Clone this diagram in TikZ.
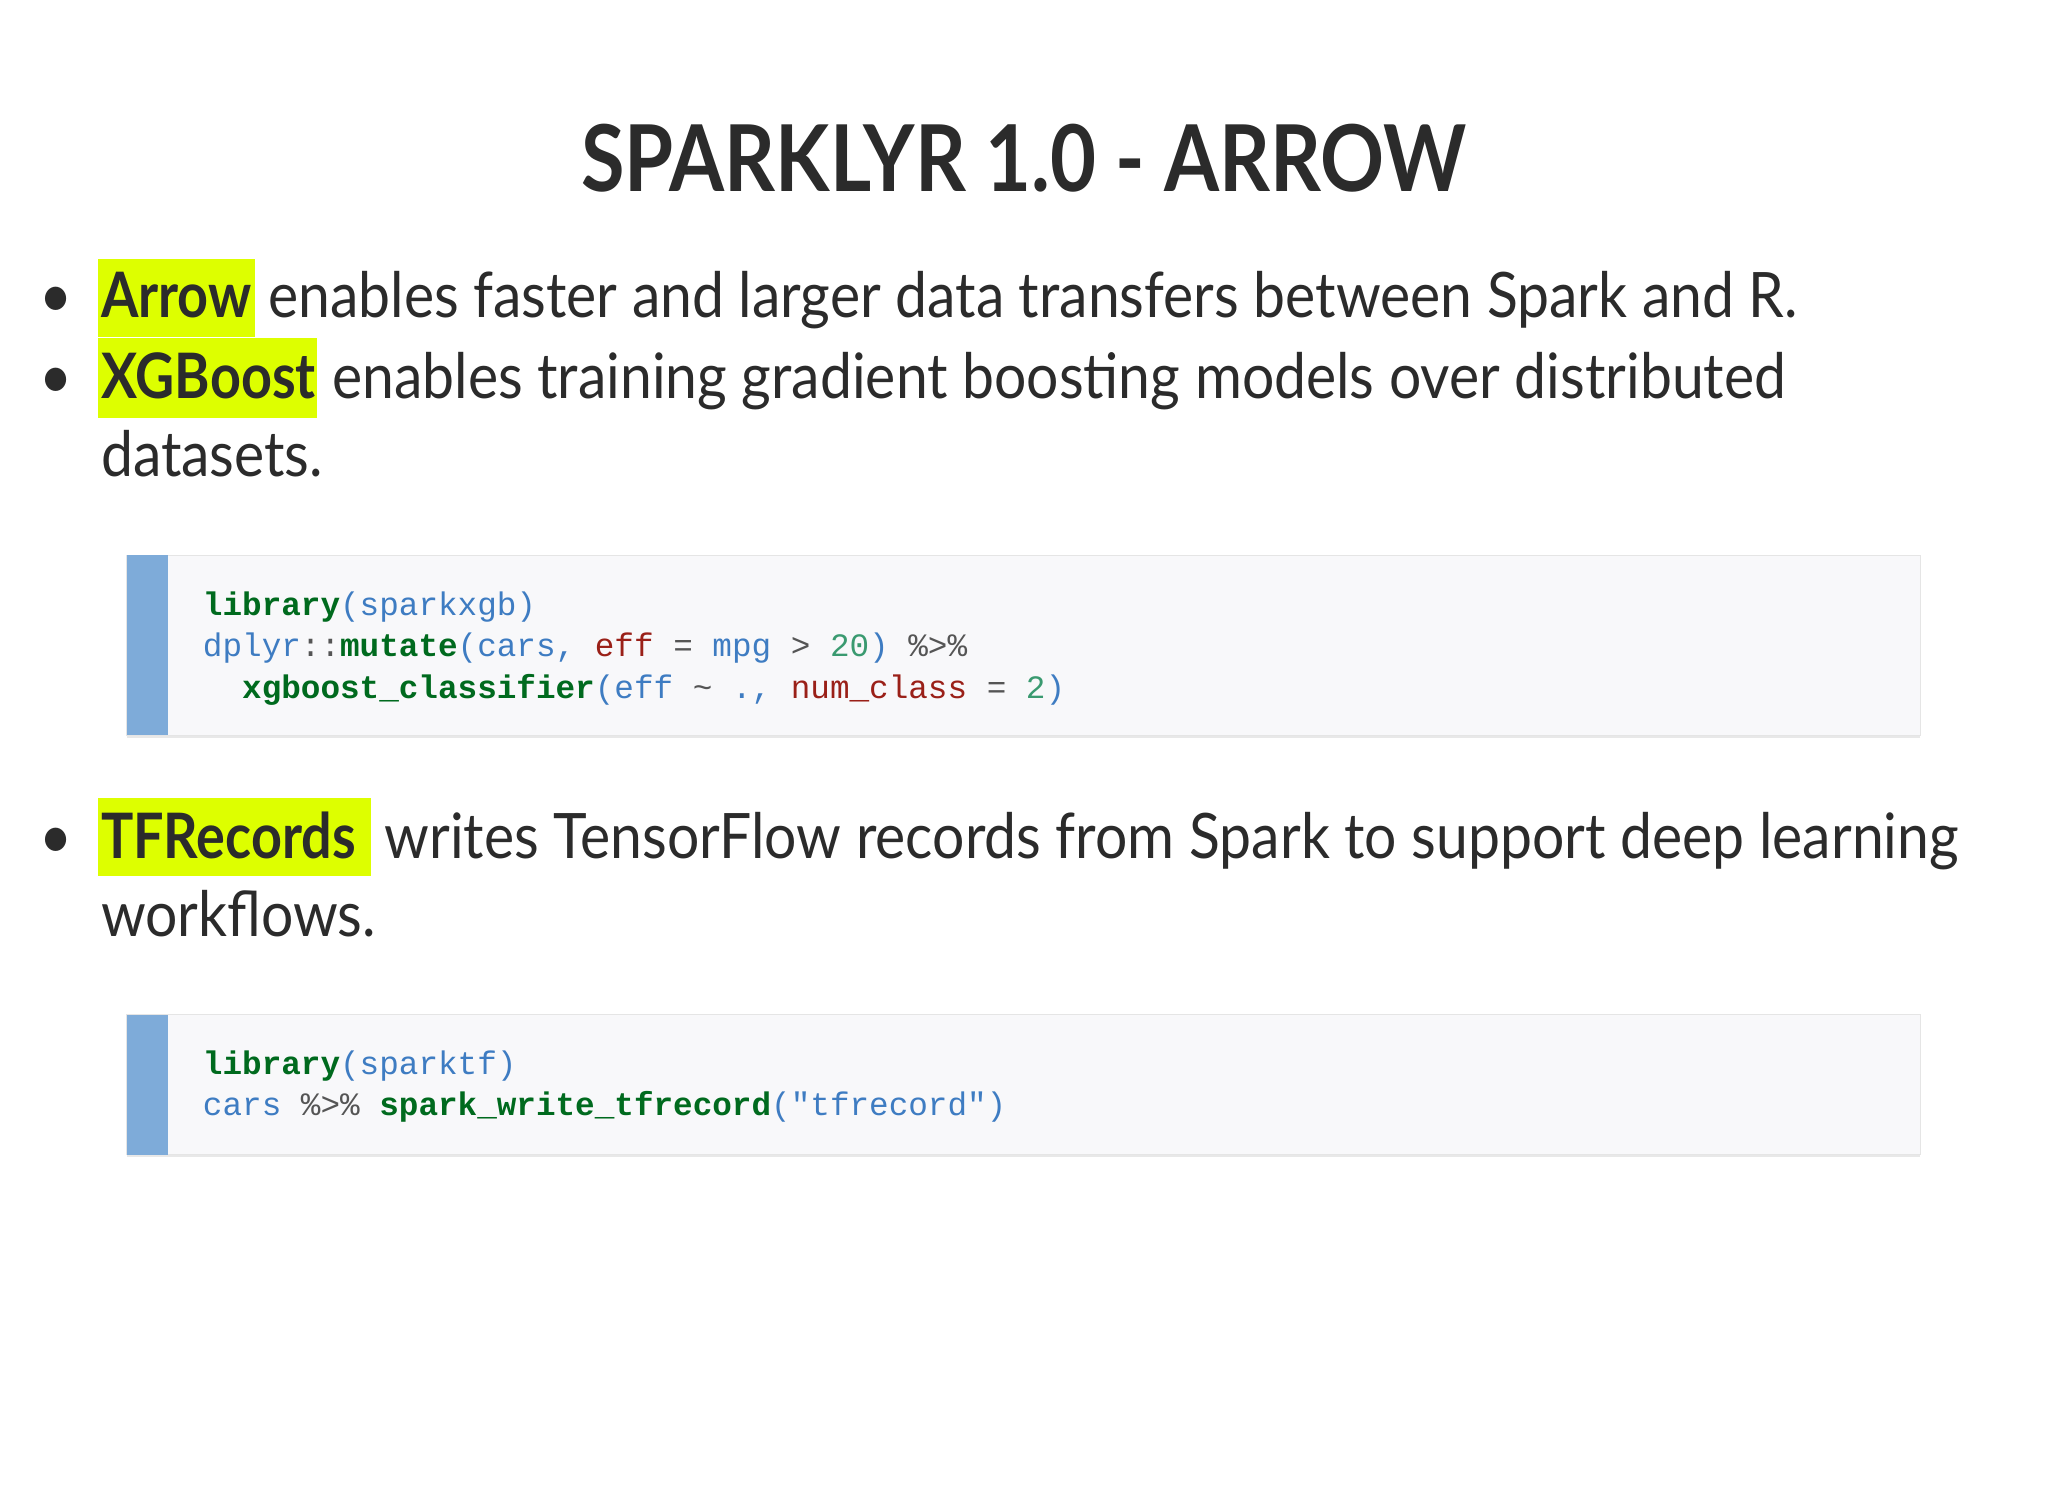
\documentclass[tikz,border=0pt]{standalone}
\usepackage{fontspec}
\setmainfont[FakeStretch=0.91,BoldFeatures={FakeStretch=0.86}]{Lato}
\setmonofont{Liberation Mono}
\usetikzlibrary{shadows}
\definecolor{txt}{HTML}{2B2B2B}
\definecolor{hl}{HTML}{DDFF00}
\definecolor{kw}{HTML}{006A1E}
\definecolor{arg}{HTML}{3E7CC2}
\definecolor{red}{HTML}{9A2018}
\definecolor{num}{HTML}{3A9A70}
\definecolor{op}{HTML}{555555}
\definecolor{bar}{HTML}{7EABD9}
\definecolor{codebg}{HTML}{F8F8FA}
\tikzset{
  body/.style={anchor=base west,inner sep=0pt,text=txt,font=\fontsize{24}{28}\selectfont},
  bodyb/.style={body,font=\fontsize{24}{28}\selectfont\bfseries},
  code/.style={anchor=base west,inner sep=0pt,font=\fontsize{12.5}{14}\selectfont\ttfamily},
  codebox/.style={fill=codebg,draw=black!10,line width=0.3pt,drop shadow={opacity=0.18,shadow xshift=0pt,shadow yshift=-1pt}},
}
\newcommand{\K}[1]{\textcolor{kw}{\bfseries #1}}
\newcommand{\A}[1]{\textcolor{arg}{#1}}
\newcommand{\R}[1]{\textcolor{red}{#1}}
\newcommand{\N}[1]{\textcolor{num}{#1}}
\newcommand{\OP}[1]{\textcolor{op}{#1}}
\begin{document}
\begin{tikzpicture}[x=0.5pt,y=-0.5pt]
\useasboundingbox (0,0) rectangle (1568,1143);
\fill[white] (0,0) rectangle (1568,1143);
\node[anchor=base,inner sep=0pt,text=txt,font=\fontsize{35.3}{38}\selectfont\bfseries] (title) at (784,147) {SPARKLYR 1.0 - ARROW};
% bullets
\node[body] (b1) at (30,243) {\textbullet};
\node[body] (b2) at (30,305) {\textbullet};
\node[body] (b3) at (30,657) {\textbullet};
\fill[hl] (75,198) rectangle (195,258);
\fill[hl] (75,259) rectangle (243,320);
\fill[hl] (75,611) rectangle (284,671);
\node[bodyb] (w1) at (77,243) {Arrow};
\node[body] (t1) at (205,243) {enables faster and larger data transfers between Spark and R.};
\node[bodyb] (w2) at (77,305) {XGBoost};
\node[body] (t2) at (254,305) {enables training gradient boosting models over distributed};
\node[body] (t2b) at (77,365) {datasets.};
\node[bodyb] (w3) at (77,657) {TFRecords};
\node[body] (t3) at (294,657) {writes TensorFlow records from Spark to support deep learning};
\node[body] (t3b) at (77,717) {workflows.};
% code box 1
\draw[codebox] (97,425) rectangle (1470,563);
\fill[bar] (97,425) rectangle (129,563);
\node[code] (c1) at (155,471) {\K{library}\A{(sparkxgb)}};
\node[code] (c2) at (155,503) {\A{dplyr}\OP{::}\K{mutate}\A{(cars,} \R{eff} \OP{=} \A{mpg} \OP{>} \N{20}\A{)} \OP{\%>\%}};
\node[code] (c3) at (155,535) {\phantom{xx}\K{xgboost\_classifier}\A{(eff} \OP{\textasciitilde} \A{.,} \R{num\_class} \OP{=} \N{2}\A{)}};
% code box 2
\draw[codebox] (97,777) rectangle (1470,884);
\fill[bar] (97,777) rectangle (129,884);
\node[code] (d1) at (155,823) {\K{library}\A{(sparktf)}};
\node[code] (d2) at (155,854) {\A{cars} \OP{\%>\%} \K{spark\_write\_tfrecord}\A{("tfrecord")}};
\end{tikzpicture}
\end{document}
